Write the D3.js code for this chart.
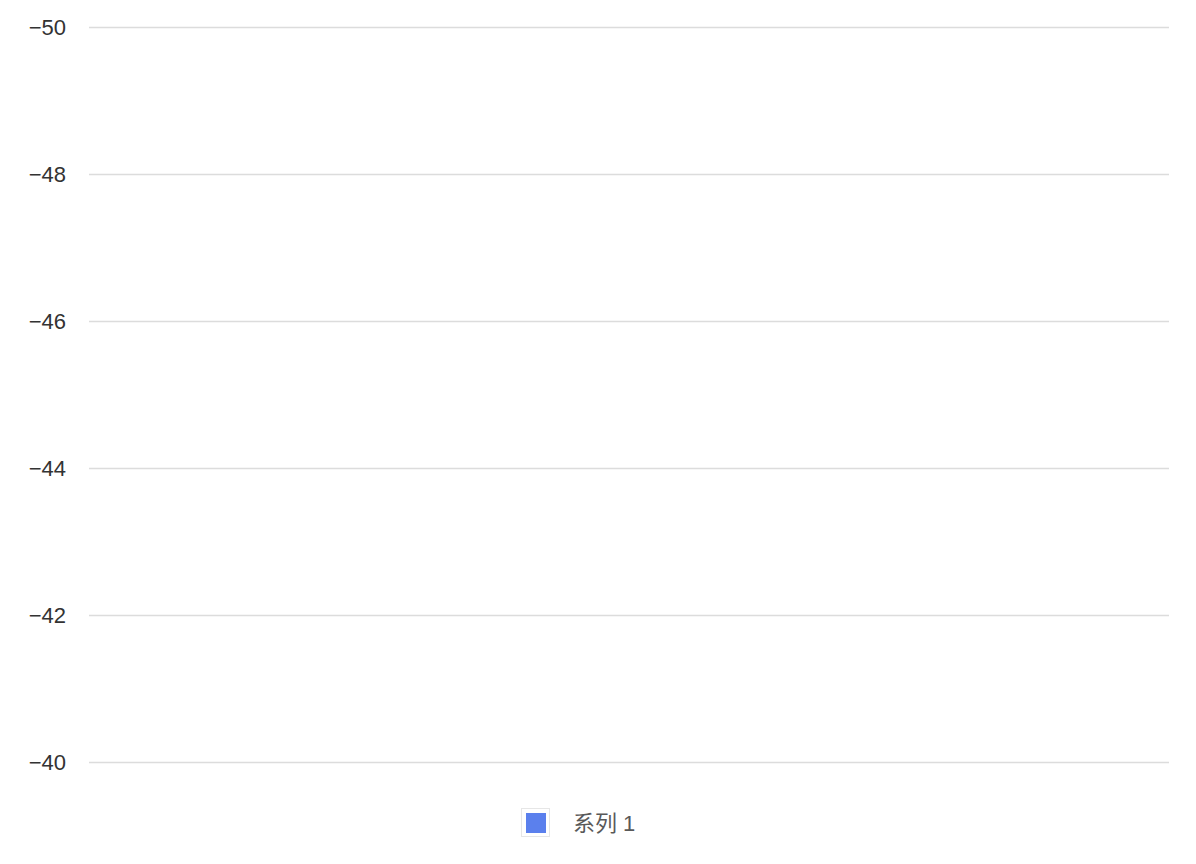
<!DOCTYPE html>
<html><head><meta charset="utf-8">
<script src="https://cdn.jsdelivr.net/npm/d3@7"></script>
<style>html,body{margin:0;padding:0;background:#fff;}svg{display:block;}</style>
</head><body>
<svg id="chart" width="1196" height="864"></svg>
<script>
const categories = [];
const seriesNames = ["系列 1"];
const seriesValues = [];
const yTicks = [-40, -42, -44, -46, -48, -50];
const yDomain = [-40, -50];

const svg = d3.select("#chart");
const W = 1196, H = 864;
const m = {left: 89, right: 27, top: 27, bottom: 102};
const font = "'Liberation Sans', 'Noto Sans CJK SC', Arial, sans-serif";

const y = d3.scaleLinear().domain(yDomain).range([H - m.bottom, m.top]);
const x = d3.scaleBand().domain(categories).range([m.left, W - m.right]).padding(0.2);

const yAxis = svg.append("g").attr("transform", `translate(${m.left},0)`)
  .call(d3.axisLeft(y).tickValues(yTicks).tickSize(-(W - m.left - m.right)).tickPadding(23)
    .tickFormat(d => d3.format("")(d).replace("-", "\u2212")));
yAxis.select(".domain").remove();
yAxis.selectAll(".tick line").attr("stroke", "#dcdcdc").attr("stroke-width", 1.5);
yAxis.selectAll(".tick text").attr("fill", "#333").style("font-size", "22px").style("font-family", font);

svg.append("g").selectAll("rect").data(seriesValues).join("rect")
  .attr("x", (d, i) => x(categories[i]))
  .attr("width", x.bandwidth())
  .attr("y", d => Math.min(y(d), y(yDomain[0])))
  .attr("height", d => Math.abs(y(d) - y(yDomain[0])))
  .attr("fill", "#5b80ed");

const lg = svg.append("g").attr("transform", "translate(521,808)");
lg.append("rect").attr("x", 0.5).attr("y", 0.5).attr("width", 28).attr("height", 28)
  .attr("fill", "#fff").attr("stroke", "#e6e6e6");
lg.append("rect").attr("x", 5).attr("y", 5).attr("width", 20).attr("height", 20).attr("fill", "#5b80ed");
lg.append("text").attr("x", 52).attr("y", 15).attr("dy", "0.35em")
  .attr("fill", "#595959").style("font-size", "22px").style("font-family", font)
  .text(seriesNames[0]);
</script>
</body></html>
